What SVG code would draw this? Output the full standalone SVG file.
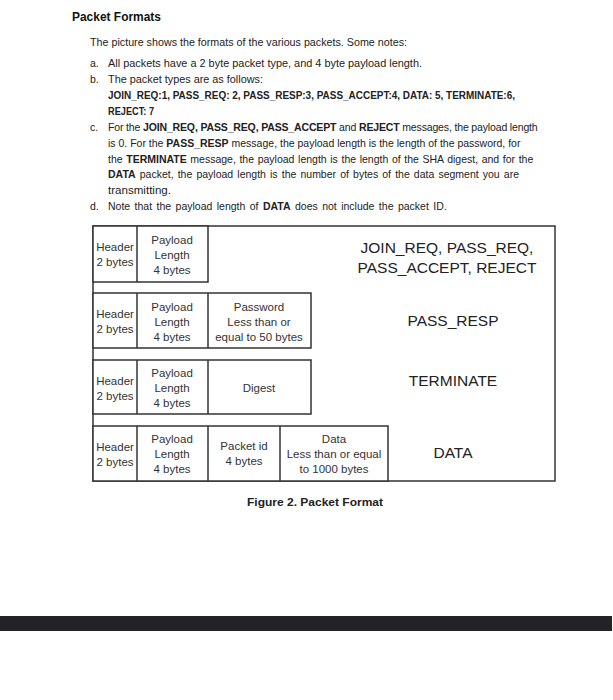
<svg xmlns="http://www.w3.org/2000/svg" width="613" height="700" viewBox="0 0 613 700">
<style>
.t{font-family:"Liberation Sans",Arial,sans-serif;font-size:10.5px;fill:#222}
.b{font-weight:bold}
.h{font-family:"Liberation Sans",Arial,sans-serif;font-size:13.5px;font-weight:bold;fill:#111}
.c{font-family:"Liberation Sans",Arial,sans-serif;font-size:11.5px;fill:#333;text-anchor:middle}
.l{font-family:"Liberation Sans",Arial,sans-serif;font-size:15.5px;fill:#222;text-anchor:middle}
.box{fill:#fff;stroke:#333;stroke-width:1.5}
</style>
<rect width="613" height="700" fill="#fff"/>
<text class="h" x="72" y="21" textLength="89" lengthAdjust="spacingAndGlyphs">Packet Formats</text>
<text class="t" x="90" y="46" textLength="317" lengthAdjust="spacingAndGlyphs">The picture shows the formats of the various packets. Some notes:</text>
<text class="t" x="90" y="67">a.</text>
<text class="t" x="108" y="67" textLength="314" lengthAdjust="spacingAndGlyphs">All packets have a 2 byte packet type, and 4 byte payload length.</text>
<text class="t" x="90" y="83">b.</text>
<text class="t" x="108" y="83" textLength="155" lengthAdjust="spacingAndGlyphs">The packet types are as follows:</text>
<text class="t b" x="108" y="99" textLength="407" lengthAdjust="spacingAndGlyphs">JOIN_REQ:1, PASS_REQ: 2, PASS_RESP:3, PASS_ACCEPT:4, DATA: 5, TERMINATE:6,</text>
<text class="t b" x="108" y="115" textLength="46" lengthAdjust="spacingAndGlyphs">REJECT: 7</text>
<text class="t" x="90" y="131">c.</text>
<text class="t" x="108" y="131" letter-spacing="-0.15">For the <tspan class="b">JOIN_REQ, PASS_REQ, PASS_ACCEPT</tspan> and <tspan class="b">REJECT</tspan> messages, the payload length</text>
<text class="t" x="108" y="147">is 0. For the <tspan class="b">PASS_RESP</tspan> message, the payload length is the length of the password, for</text>
<text class="t" x="108" y="163" word-spacing="0.7">the <tspan class="b">TERMINATE</tspan> message, the payload length is the length of the SHA digest, and for the</text>
<text class="t" x="108" y="178" word-spacing="1.2"><tspan class="b">DATA</tspan> packet, the payload length is the number of bytes of the data segment you are</text>
<text class="t" x="108" y="194" textLength="63" lengthAdjust="spacingAndGlyphs">transmitting.</text>
<text class="t" x="90" y="210">d.</text>
<text class="t" x="108" y="210" word-spacing="1.5">Note that the payload length of <tspan class="b">DATA</tspan> does not include the packet ID.</text>

<g id="outer"><rect class="box" x="93" y="226" width="462" height="255"/></g>

<g id="row1">
<rect class="box" x="93" y="226" width="115" height="56" stroke-width="2"/>
<line x1="137" y1="226" x2="137" y2="282" stroke="#333" stroke-width="1.5"/>
<text class="c" x="115" y="251">Header</text>
<text class="c" x="115" y="266">2 bytes</text>
<text class="c" x="172" y="244">Payload</text>
<text class="c" x="172" y="259">Length</text>
<text class="c" x="172" y="274">4 bytes</text>
<text class="l" x="447" y="253">JOIN_REQ,  PASS_REQ,</text>
<text class="l" x="447" y="273">PASS_ACCEPT, REJECT</text>
</g>

<g id="row2">
<rect class="box" x="93" y="293" width="218" height="55"/>
<line x1="137" y1="293" x2="137" y2="348" stroke="#333" stroke-width="1.5"/>
<line x1="208" y1="293" x2="208" y2="348" stroke="#333" stroke-width="1.5"/>
<text class="c" x="115" y="318">Header</text>
<text class="c" x="115" y="333">2 bytes</text>
<text class="c" x="172" y="311">Payload</text>
<text class="c" x="172" y="326">Length</text>
<text class="c" x="172" y="341">4 bytes</text>
<text class="c" x="259" y="311">Password</text>
<text class="c" x="259" y="326">Less than or</text>
<text class="c" x="259" y="341">equal to 50 bytes</text>
<text class="l" x="453" y="326">PASS_RESP</text>
</g>

<g id="row3">
<rect class="box" x="93" y="360" width="218" height="54"/>
<line x1="137" y1="360" x2="137" y2="414" stroke="#333" stroke-width="1.5"/>
<line x1="208" y1="360" x2="208" y2="414" stroke="#333" stroke-width="1.5"/>
<text class="c" x="115" y="385">Header</text>
<text class="c" x="115" y="400">2 bytes</text>
<text class="c" x="172" y="377">Payload</text>
<text class="c" x="172" y="392">Length</text>
<text class="c" x="172" y="407">4 bytes</text>
<text class="c" x="259" y="392">Digest</text>
<text class="l" x="453" y="386">TERMINATE</text>
</g>

<g id="row4">
<rect class="box" x="93" y="426" width="295" height="55"/>
<line x1="137" y1="426" x2="137" y2="481" stroke="#333" stroke-width="1.5"/>
<line x1="208" y1="426" x2="208" y2="481" stroke="#333" stroke-width="1.5"/>
<line x1="280" y1="426" x2="280" y2="481" stroke="#333" stroke-width="1.5"/>
<text class="c" x="115" y="451">Header</text>
<text class="c" x="115" y="466">2 bytes</text>
<text class="c" x="172" y="443">Payload</text>
<text class="c" x="172" y="458">Length</text>
<text class="c" x="172" y="473">4 bytes</text>
<text class="c" x="244" y="450">Packet id</text>
<text class="c" x="244" y="465">4 bytes</text>
<text class="c" x="334" y="443">Data</text>
<text class="c" x="334" y="458">Less than or equal</text>
<text class="c" x="334" y="473">to 1000 bytes</text>
<text class="l" x="453" y="458">DATA</text>
</g>

<text class="t b" x="247" y="506" font-size="12" textLength="136" lengthAdjust="spacingAndGlyphs">Figure 2. Packet Format</text>
<rect x="0" y="616" width="612" height="15" fill="#232325"/>
</svg>
